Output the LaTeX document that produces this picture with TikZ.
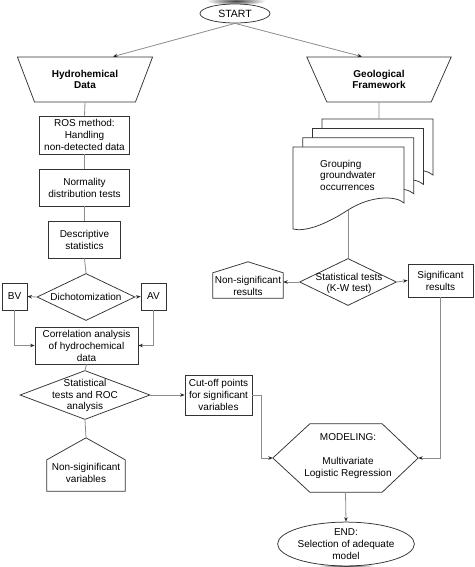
\documentclass[tikz,border=0pt]{standalone}
\usepackage{fontspec}
\setmainfont{Liberation Sans}
\usetikzlibrary{shapes.geometric,arrows.meta,calc}
\begin{document}
\begin{tikzpicture}[x=1pt,y=-1pt,
  every node/.style={font=\fontsize{10}{12}\selectfont},
  base/.style={draw=black!80, line width=0.75pt, fill=white, align=center, inner sep=1pt},
  box/.style={base, rectangle},
  frame/.style={rectangle, inner sep=0pt},
  trap/.style={base, trapezium, shape border rotate=180, trapezium stretches=true, font=\bfseries\fontsize{10}{11.5}\selectfont, minimum height=45pt},
  dia/.style={base, diamond, inner sep=0pt},
  txt/.style={align=center, inner sep=0pt, font=\fontsize{10}{11.5}\selectfont},
  outline/.style={draw=black!80, line width=0.75pt, fill=white},
  conn/.style={draw=black!45, line width=0.8pt},
  arr/.style={conn, -{Stealth[length=4.5pt,width=3.5pt,color=black!85]}},
]
\useasboundingbox (0,0) rectangle (474,567);
% shadows
\shade[inner color=black!75, outer color=white] (236,1) ellipse (30pt and 4pt);
\shade[inner color=black!75, outer color=white] (346,566) ellipse (28pt and 4pt);

% document stack
\foreach \i in {3,2,1,0} {
  \draw[outline, shift={({9.7*\i},{-9.3*\i})}] (293,147) -- (404,147) -- (404,203)
     .. controls (395,195) and (370,196) .. (348,210)
     .. controls (325,225) and (305,232) .. (293,229) -- cycle;
}
\coordinate (doctop) at (379,119);
\coordinate (docbot) at (348,210);
\node[txt, anchor=west, align=left] (doc) at (320,175) {Grouping\\groundwater\\occurrences};

% nodes
\node[base, ellipse, minimum width=70pt, minimum height=19pt, inner sep=0pt, font=\fontsize{10.5}{12}\selectfont] (start) at (235,13.5) {START};
\node[trap, minimum width=136pt, trapezium left angle=61, trapezium right angle=61] (hydro) at (85,79.5) {Hydrohemical\\Data};
\node[trap, minimum width=145pt, trapezium left angle=63, trapezium right angle=63] (geo) at (379,79.5) {Geological\\Framework};
\node[box, minimum width=90pt, minimum height=38pt] (ros) at (84.5,135) {ROS method:\\Handling\\non-detected data};
\node[box, minimum width=90pt, minimum height=37pt] (norm) at (84.5,187.5) {Normality\\distribution tests};
\node[box, minimum width=72pt, minimum height=37pt] (desc) at (84.5,239.5) {Descriptive\\statistics};
\node[dia, minimum width=98pt, minimum height=47pt] (dich) at (86,297) {};
\node[txt] (dicht) at (dich) {Dichotomization};
\node[box, minimum width=25pt, minimum height=27pt] (bv) at (14.5,296.5) {BV};
\node[box, minimum width=25pt, minimum height=27pt] (av) at (153.5,296.5) {AV};
\node[box, minimum width=103pt, minimum height=37pt] (corr) at (86.5,345.5) {Correlation analysis\\of hydrochemical\\data};
\node[dia, minimum width=130pt, minimum height=49pt] (roc) at (85,395) {};
\node[txt] (roct) at (85,395.5) {Statistical\\tests and ROC\\analysis};
\node[box, minimum width=67pt, minimum height=40pt, inner sep=0pt] (cut) at (218.5,395) {Cut-off points\\for significant\\variables};

% pentagon: non-significant variables
\node[frame, minimum width=78pt, minimum height=53pt] (nonvar) at (86,464.5) {};
\draw[outline] (nonvar.north) -- ($(nonvar.north east)+(0,22)$) -- (nonvar.south east)
   -- (nonvar.south west) -- ($(nonvar.north west)+(0,22)$) -- cycle;
\node[txt] (nonvart) at (86,473) {Non-siginificant\\variables};

% hexagon: modeling
\node[frame, minimum width=145pt, minimum height=68pt] (model) at (345.5,458) {};
\draw[outline] (model.west) -- ($(model.north west)+(37,0)$) -- ($(model.north east)+(-36,0)$)
   -- (model.east) -- ($(model.south east)+(-36,0)$) -- ($(model.south west)+(37,0)$) -- cycle;
\node[txt] (modelt) at (348,456) {MODELING:\\[13pt]Multivariate\\Logistic Regression};

\node[base, ellipse, minimum width=135pt, minimum height=42pt, inner sep=0pt] (end) at (346,544) {END:\\Selection of adequate\\model};
\node[box, minimum width=65pt, minimum height=33pt] (sig) at (440.5,280.5) {Significant\\results};
\node[dia, minimum width=97pt, minimum height=47pt] (kw) at (348,282) {};
\node[txt] (kwt) at (349,283.5) {Statistical tests\\(K-W test)};

% pentagon: non-significant results
\node[frame, minimum width=70pt, minimum height=36pt] (nonres) at (248,280) {};
\draw[outline] (nonres.north) -- ($(nonres.north east)+(0,11)$) -- (nonres.south east)
   -- (nonres.south west) -- ($(nonres.north west)+(0,11)$) -- cycle;
\node[txt] (nonrest) at (248,286) {Non-significant\\results};

% connectors
\draw[arr] (start.south) -- ([xshift=28pt]hydro.north);
\draw[arr] (start.south) -- ([xshift=-17pt]geo.north);
\draw[conn] (hydro.south) -- (ros.north);
\draw[conn] (ros.south) -- (norm.north);
\draw[conn] (norm.south) -- (desc.north);
\draw[conn] (desc.south) -- (dich.north);
\draw[arr] (dich.west) -- (bv.east);
\draw[arr] (dich.east) -- (av.west);
\draw[arr] (bv.south) |- (corr.west);
\draw[arr] (av.south) |- (corr.east);
\draw[conn] (corr.south) -- (roc.north);
\draw[arr] (roc.east) -- (cut.west);
\draw[conn] (roc.south) -- (nonvar.north);
\draw[arr] (cut.east) -- ([xshift=9pt]cut.east) |- (model.west);
\draw[arr] (sig.south) |- (model.east);
\draw[arr] (model.south) -- (end.north);
\draw[conn] (geo.south) -- (doctop);
\draw[conn] (docbot) -- (kw.north);
\draw[arr] (kw.west) -- (kw.west -| nonres.east);
\draw[arr] (kw.east) -- (sig.west);
\end{tikzpicture}
\end{document}
